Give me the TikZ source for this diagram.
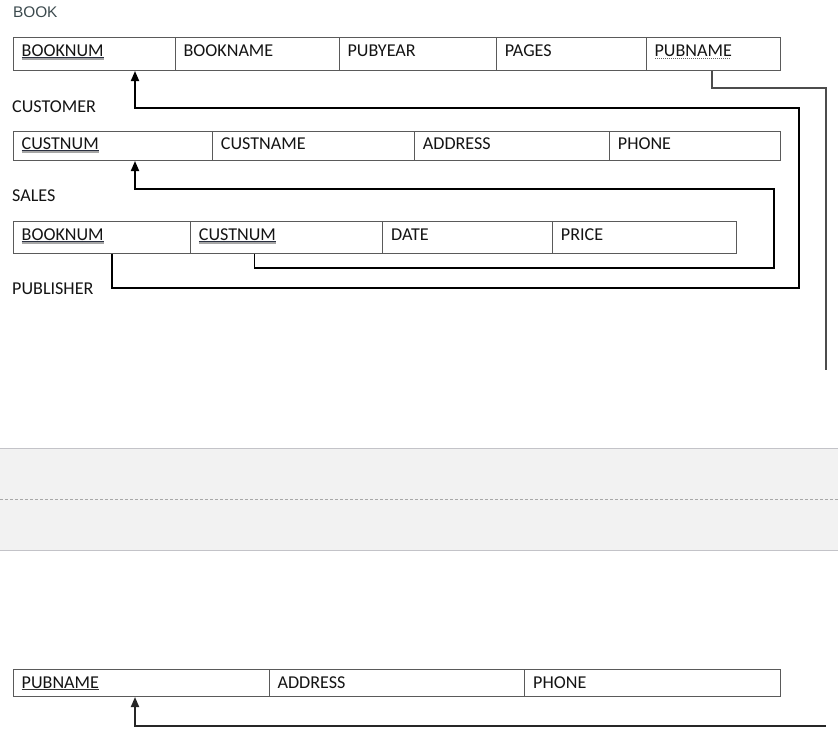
\documentclass[tikz,border=0pt]{standalone}
\usepackage{fontspec}
\setmainfont{Carlito}
\newfontfamily\titlefont{Liberation Sans}
\usetikzlibrary{arrows.meta}
\definecolor{tblline}{HTML}{5A5A5A}
\definecolor{txtcol}{HTML}{141414}
\definecolor{titlecol}{HTML}{3C4A4E}
\definecolor{bandfill}{HTML}{F2F2F2}
\definecolor{bandline}{HTML}{C3C3C8}
\definecolor{banddash}{HTML}{A8A8A8}
\definecolor{ulcol}{HTML}{2A3040}
\newcommand\keyul[1]{\setbox0\hbox{#1}\rlap{\color{ulcol}\rule[-2.3pt]{\wd0}{1pt}}\rlap{\color{black!35}\rule[-4pt]{\wd0}{1.7pt}}#1}
\newcommand\dotul[1]{\setbox0\hbox{#1}\rlap{\color{black!60}\raisebox{-2.6pt}{\hbox to\wd0{\leaders\hbox to 2pt{\hss\rule{1pt}{0.9pt}\hss}\hfill}}}#1}
\newcommand\solidul[1]{\setbox0\hbox{#1}\rlap{\color{black!80}\rule[-2.3pt]{\wd0}{0.9pt}}#1}
\begin{document}
\begin{tikzpicture}[x=1pt,y=-1pt,
  cell/.style={draw=tblline,line width=1pt,rectangle,inner sep=0pt,anchor=north west},
  txt/.style={anchor=base west,inner sep=0pt,text=txtcol,font=\fontsize{18.1}{21}\selectfont},
  tbltitle/.style={anchor=base west,inner sep=0pt,text=txtcol,font=\fontsize{18.1}{21}\selectfont},
  conn/.style={line width=1.8pt,draw=black,line join=miter},
  conngray/.style={line width=1.6pt,draw=black!70},
  tip/.style={-{Triangle[width=8pt,length=10pt]}}
]
\useasboundingbox (0,0) rectangle (838,737);
% page break band
\fill[bandfill] (0,448.3) rectangle (838,550.3);
\draw[bandline,line width=1pt] (0,448.3) -- (838,448.3);
\draw[bandline,line width=1pt] (0,550.3) -- (838,550.3);
\draw[banddash,line width=1pt,dash pattern=on 3pt off 2pt] (0,499.3) -- (838,499.3);

% titles
\node[anchor=base west,inner sep=0pt,text=titlecol,font=\titlefont\fontsize{15.4}{18}\selectfont] (tbook) at (12.8,17) {BOOK};
\node[tbltitle] (tcust) at (12,112) {CUSTOMER};
\node[tbltitle] (tsales) at (12,201) {SALES};
\node[tbltitle] (tpub) at (12,294) {PUBLISHER};

% BOOK table
\node[cell,minimum width=161.7pt,minimum height=32.7pt] (b1) at (13,37.3) {};
\node[cell,minimum width=164pt,minimum height=32.7pt] (b2) at (174.7,37.3) {};
\node[cell,minimum width=157.3pt,minimum height=32.7pt] (b3) at (338.7,37.3) {};
\node[cell,minimum width=149.7pt,minimum height=32.7pt] (b4) at (496,37.3) {};
\node[cell,minimum width=134.3pt,minimum height=32.7pt] (b5) at (645.7,37.3) {};
\node[txt] (b1t) at ([shift={(8.5pt,-18.7pt)}]b1.north west) {\keyul{BOOKNUM}};
\node[txt] (b2t) at ([shift={(8.7pt,-18.7pt)}]b2.north west) {BOOKNAME};
\node[txt] (b3t) at ([shift={(8.7pt,-18.7pt)}]b3.north west) {PUBYEAR};
\node[txt] (b4t) at ([shift={(8.7pt,-18.7pt)}]b4.north west) {PAGES};
\node[txt] (b5t) at ([shift={(8.7pt,-18.7pt)}]b5.north west) {\dotul{PUBNAME}};

% CUSTOMER table
\node[cell,minimum width=199pt,minimum height=29.3pt] (c1) at (13,130.7) {};
\node[cell,minimum width=202pt,minimum height=29.3pt] (c2) at (212,130.7) {};
\node[cell,minimum width=195pt,minimum height=29.3pt] (c3) at (414,130.7) {};
\node[cell,minimum width=171pt,minimum height=29.3pt] (c4) at (609,130.7) {};
\node[txt] (c1t) at ([shift={(8.5pt,-18.3pt)}]c1.north west) {\keyul{CUSTNUM}};
\node[txt] (c2t) at ([shift={(8.7pt,-18.3pt)}]c2.north west) {CUSTNAME};
\node[txt] (c3t) at ([shift={(8.7pt,-18.3pt)}]c3.north west) {ADDRESS};
\node[txt] (c4t) at ([shift={(8.7pt,-18.3pt)}]c4.north west) {PHONE};

% SALES table
\node[cell,minimum width=177pt,minimum height=31.7pt] (s1) at (13,221) {};
\node[cell,minimum width=192.3pt,minimum height=31.7pt] (s2) at (190,221) {};
\node[cell,minimum width=169.7pt,minimum height=31.7pt] (s3) at (382.3,221) {};
\node[cell,minimum width=184.3pt,minimum height=31.7pt] (s4) at (552,221) {};
\node[txt] (s1t) at ([shift={(8.5pt,-19pt)}]s1.north west) {\keyul{BOOKNUM}};
\node[txt] (s2t) at ([shift={(8.7pt,-19pt)}]s2.north west) {\keyul{CUSTNUM}};
\node[txt] (s3t) at ([shift={(8.7pt,-19pt)}]s3.north west) {DATE};
\node[txt] (s4t) at ([shift={(8.7pt,-19pt)}]s4.north west) {PRICE};

% PUBLISHER table
\node[cell,minimum width=255.7pt,minimum height=26.7pt] (p1) at (13,669.3) {};
\node[cell,minimum width=255.6pt,minimum height=26.7pt] (p2) at (268.7,669.3) {};
\node[cell,minimum width=255.7pt,minimum height=26.7pt] (p3) at (524.3,669.3) {};
\node[txt] (p1t) at ([shift={(8.5pt,-18.7pt)}]p1.north west) {\solidul{PUBNAME}};
\node[txt] (p2t) at ([shift={(8.7pt,-18.7pt)}]p2.north west) {ADDRESS};
\node[txt] (p3t) at ([shift={(8.7pt,-18.7pt)}]p3.north west) {PHONE};

% routing coordinates
\coordinate (xa) at (111.7,0);
\coordinate (xb) at (135,0);
\coordinate (xc) at (254.5,0);
\coordinate (xd) at (711.7,0);
\coordinate (r1) at (774.3,0);
\coordinate (r2) at (799,0);
\coordinate (r3) at (825.7,0);
\coordinate (y1) at (0,108);
\coordinate (y2) at (0,188.7);
\coordinate (y3) at (0,268.3);
\coordinate (y4) at (0,288.3);
\coordinate (y5) at (0,87.7);
\coordinate (yend) at (0,370);
\coordinate (ybot) at (0,726);

% SALES.BOOKNUM -> BOOK.BOOKNUM
\draw[conn,tip] (s1.south -| xa) -- (xa |- y4) -- (r2 |- y4) -- (r2 |- y1) -- (xb |- y1) -- (b1.south -| xb);
% SALES.CUSTNUM -> CUSTOMER.CUSTNUM
\draw[conn,tip] (s2.south -| xc) -- (xc |- y3) -- (r1 |- y3) -- (r1 |- y2) -- (xb |- y2) -- (c1.south -| xb);
% BOOK.PUBNAME -> (page break)
\draw[conngray] (b5.south -| xd) -- (xd |- y5) -- (r3 |- y5) -- (r3 |- yend);
% (page break) -> PUBLISHER.PUBNAME
\draw[conn,draw=black!85,tip] (r3 |- ybot) -- (xb |- ybot) -- (p1.south -| xb);
\end{tikzpicture}
\end{document}
